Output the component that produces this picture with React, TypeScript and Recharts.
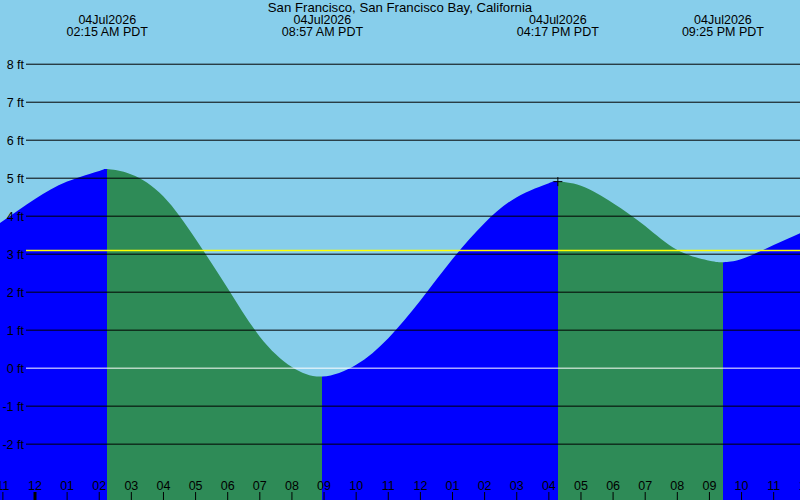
import React from 'react';
import { ComposedChart, Area, XAxis, YAxis, ReferenceLine, ReferenceDot } from 'recharts';

const title = 'San Francisco, San Francisco Bay, California';

// hours after local midnight, 04 Jul 2026 (PDT)
const times = [
  -1.09, 0, 1, 2, 2.25, 3, 4, 5, 6, 7, 8, 8.95, 10, 11, 12, 13, 14, 15, 16, 16.28, 17, 18, 19, 20, 21,
  21.42, 22, 23, 23.82,
];
// predicted water level, ft
const heights = [
  3.82, 4.45, 4.91, 5.19, 5.24, 5.1, 4.52, 3.4, 2.1, 0.83, 0.03, -0.22, 0.09, 0.79, 1.78, 2.87, 3.82,
  4.5, 4.87, 4.91, 4.8, 4.34, 3.74, 3.11, 2.83, 2.79, 2.87, 3.24, 3.55,
];

const extremeTimes = [2.25, 8.95, 16.28, 21.42];
const extremeKinds = ['H', 'L', 'H', 'L'];
const extremeDates = ['04Jul2026', '04Jul2026', '04Jul2026', '04Jul2026'];
const extremeLabels = ['02:15 AM PDT', '08:57 AM PDT', '04:17 PM PDT', '09:25 PM PDT'];

const hourTicks = [-1, 0, 1, 2, 3, 4, 5, 6, 7, 8, 9, 10, 11, 12, 13, 14, 15, 16, 17, 18, 19, 20, 21, 22, 23, 24];
const feetTicks = [-2, -1, 0, 1, 2, 3, 4, 5, 6, 7, 8];
const yellowLevel = 3.1;
const markerIndex = 2;

const W = 800;
const H = 500;
const FONT = '"Liberation Sans", Arial, sans-serif';
const SKY = '#87ceeb';
const RISING = '#0000ff';
const FALLING = '#2e8b57';

const data = times.map((t, i) => ({ t, h: heights[i] }));

// hard colour stops: blue while the tide rises, green while it falls
const span = times[times.length - 1] - times[0];
const stops: { off: number; color: string }[] = [];
let current = extremeKinds[0] === 'H' ? RISING : FALLING;
stops.push({ off: 0, color: current });
extremeTimes.forEach((t, i) => {
  const off = (t - times[0]) / span;
  const next = extremeKinds[i] === 'H' ? FALLING : RISING;
  stops.push({ off, color: current });
  stops.push({ off, color: next });
  current = next;
});
stops.push({ off: 1, color: current });

const hourLabel = (h: number) => {
  const v = ((h % 12) + 12) % 12 || 12;
  return String(v).padStart(2, '0');
};

const YTick = (props: any) => {
  const { y, payload } = props;
  const v = payload.value;
  return (
    <g>
      <line x1={26} x2={W} y1={y} y2={y} stroke={v === 0 ? '#ffffff' : '#000000'} strokeWidth={1} />
      <text x={24} y={y + 4.5} textAnchor="end" fontFamily={FONT} fontSize={12.5} fill="#000">
        {`${v} ft`}
      </text>
    </g>
  );
};

const XTick = (props: any) => {
  const { x, payload } = props;
  const v = payload.value;
  return (
    <g>
      <line x1={x} x2={x} y1={492} y2={H} stroke="#000" strokeWidth={v === 0 ? 3 : 1} />
      <text x={x} y={490} textAnchor="middle" fontFamily={FONT} fontSize={12.5} fill="#000">
        {hourLabel(v)}
      </text>
    </g>
  );
};

const TopTick = (props: any) => {
  const { x, payload } = props;
  const i = extremeTimes.indexOf(payload.value);
  return (
    <g fontFamily={FONT} fontSize={12.5} fill="#000" textAnchor="middle">
      <text x={x} y={24}>{extremeDates[i]}</text>
      <text x={x} y={36}>{extremeLabels[i]}</text>
    </g>
  );
};

export default function App() {
  const domainX: [number, number] = [-1.09, 23.82];
  return (
    <div style={{ position: 'fixed', left: 0, top: 0, width: W, height: H, background: SKY }}>
      <ComposedChart width={W} height={H} data={data} margin={{ top: 0, right: 0, bottom: 0, left: 0 }}>
        <defs>
          <linearGradient id="tideFill" x1="0" y1="0" x2="1" y2="0">
            {stops.map((s, i) => (
              <stop key={i} offset={s.off} stopColor={s.color} />
            ))}
          </linearGradient>
        </defs>
        <Area
          dataKey="h"
          type="natural"
          fill="url(#tideFill)"
          fillOpacity={1}
          stroke="none"
          baseValue="dataMin"
          isAnimationActive={false}
        />
        <XAxis
          dataKey="t"
          type="number"
          domain={domainX}
          ticks={hourTicks}
          interval={0}
          height={30}
          mirror
          axisLine={false}
          tickLine={false}
          tick={(p: any) => <XTick {...p} />}
          allowDataOverflow
        />
        <XAxis
          xAxisId="top"
          orientation="top"
          dataKey="t"
          type="number"
          domain={domainX}
          ticks={extremeTimes}
          interval={0}
          height={30}
          mirror
          axisLine={false}
          tickLine={false}
          tick={(p: any) => <TopTick {...p} />}
          allowDataOverflow
        />
        <YAxis
          type="number"
          domain={[-3.47, 9.69]}
          ticks={feetTicks}
          interval={0}
          width={30}
          mirror
          axisLine={false}
          tickLine={false}
          tick={(p: any) => <YTick {...p} />}
          allowDataOverflow
        />
        <ReferenceLine
          y={yellowLevel}
          stroke="#ffff00"
          shape={(p: any) => <line x1={26} x2={W} y1={p.y1} y2={p.y2} stroke="#ffff00" strokeWidth={1.5} />}
        />
        <ReferenceDot
          x={extremeTimes[markerIndex]}
          y={heights[times.indexOf(extremeTimes[markerIndex])]}
          r={0}
          shape={(p: any) => (
            <path d={`M${p.cx - 4.5},${p.cy}h9M${p.cx},${p.cy - 4.5}v9`} stroke="#000" strokeWidth={1} fill="none" />
          )}
        />
      </ComposedChart>
      <div
        style={{
          position: 'absolute',
          left: 0,
          top: 0,
          width: W,
          textAlign: 'center',
          fontFamily: FONT,
          fontSize: 13.2,
          lineHeight: '15px',
          color: '#000',
        }}
      >
        {title}
      </div>
    </div>
  );
}
